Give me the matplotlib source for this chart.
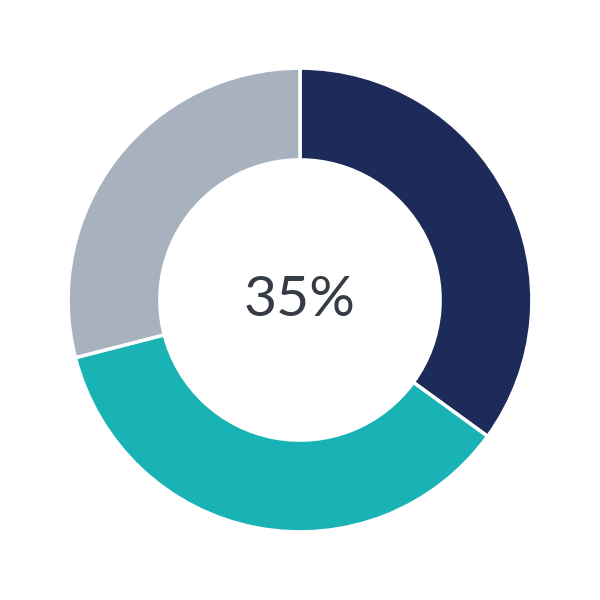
import matplotlib
matplotlib.use("Agg")
import matplotlib.pyplot as plt

labels = ["Navy", "Teal", "Gray"]
values = [35, 36, 29]
colors = ["#1c2b5a", "#1ab3b5", "#a8b2bf"]
center_text = "35%"

fig, ax = plt.subplots(figsize=(6, 6), dpi=100)
fig.subplots_adjust(left=0, right=1, bottom=0, top=1)

ax.pie(values, colors=colors, startangle=90, counterclock=False,
       radius=0.773, wedgeprops=dict(width=0.306, edgecolor="white", linewidth=2.5))
ax.text(0, 0, center_text, ha="center", va="center", fontsize=41,
        family=["Lato", "DejaVu Sans"], color="#353c44")
ax.set_xlim(-1, 1)
ax.set_ylim(-1, 1)
ax.set_aspect("equal")
ax.axis("off")

fig.savefig("out.png", dpi=100)
